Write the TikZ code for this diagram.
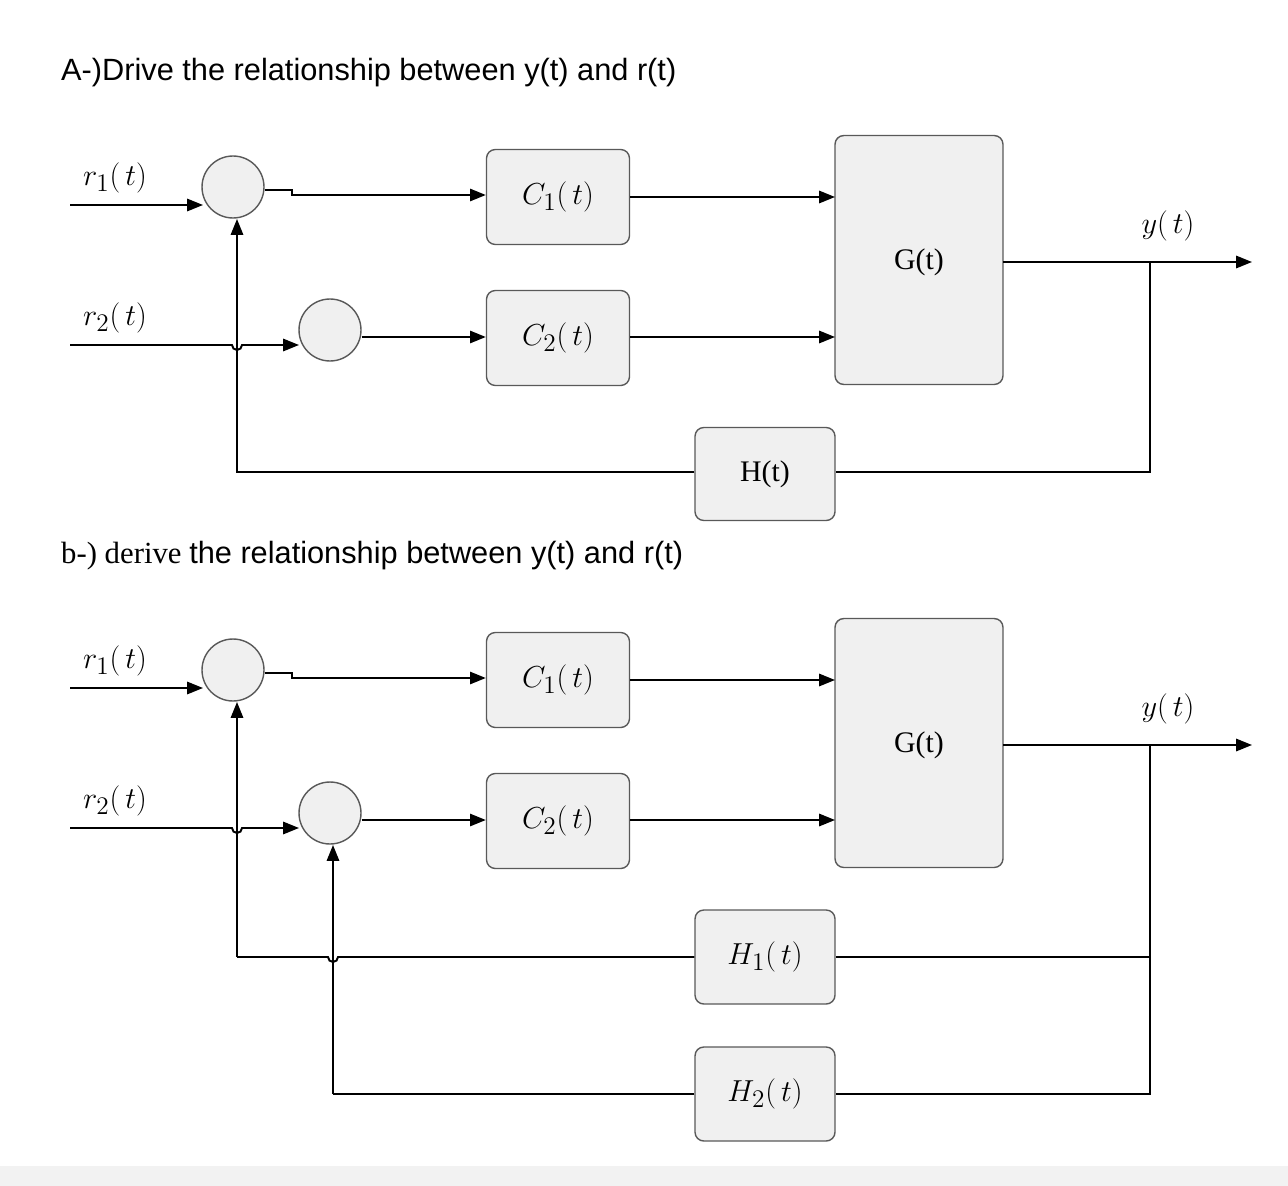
\documentclass[tikz,border=0pt]{standalone}
\usepackage{fontspec}
\setmainfont{Liberation Serif}
\newfontfamily\sans{Liberation Sans}
\usetikzlibrary{arrows.meta}
\begin{document}
\begin{tikzpicture}[x=0.02cm,y=-0.02cm,
  ln/.style={line width=1.1pt},
  ar/.style={ln,-{Triangle[length=9pt,width=7pt]}},
  blk/.style={draw=black!65,fill=black!6,rounded corners=5pt,line width=0.8pt,inner sep=0pt},
  sj/.style={circle,draw=black!65,fill=black!6,line width=0.8pt,minimum size=1.24cm,inner sep=0pt},
  lab/.style={font=\fontsize{19}{22}\selectfont},
  ttl/.style={anchor=west,font=\fontsize{17.5}{20}\selectfont}]
\useasboundingbox (0,0) rectangle (1288,1186);
\fill[black!5] (0,1166) rectangle (1288,1186);
\foreach \o/\p in {0/a,483/b}{
  \node[sj] (\p s1) at (233,187+\o) {};
  \node[blk,minimum width=2.86cm,minimum height=1.9cm] (\p c1) at (558,197+\o) {};
  \node[lab] at (558,197+\o) {$C_1(\,t)$};
  \node[blk,minimum width=2.86cm,minimum height=1.9cm] (\p c2) at (558,338+\o) {};
  \node[lab] at (558,338+\o) {$C_2(\,t)$};
  \node[blk,minimum width=3.36cm,minimum height=4.98cm] (\p g) at (919,260+\o) {};
  \node[lab,font=\fontsize{17}{20}\selectfont] at (919,262+\o) {G(t)};
  \node[sj] (\p s2) at (330,330+\o) {};
  \node[lab] at (115,178+\o) {$r_1(\,t)$};
  \node[lab] at (115,318+\o) {$r_2(\,t)$};
  \node[lab] at (1168,226+\o) {$y(\,t)$};
  \coordinate (\p yo) at (1252,262+\o);
  \draw[ar] (70,205+\o) -- (203,205+\o);
  \draw[ln] (265,190+\o) -- (292,190+\o) -- (292,195+\o) -- (380,195+\o);
  \draw[ar] (380,195+\o) -- (\p c1.west|-0,195+\o);
  \draw[ar] (630,197+\o) -- (835,197+\o);
  \draw[ar] (630,337+\o) -- (835,337+\o);
  \draw[ar] (1003,262+\o) -- (\p yo);
  \draw[ar] (\p s2.east|-0,337+\o) -- (\p c2.west|-0,337+\o);
  \draw[ln] (70,345+\o) -- (232,345+\o) arc (180:0:5) -- (250,345+\o);
  \draw[ar] (250,345+\o) -- (299,345+\o);
}
% part A
\node[ttl,font=\sans\fontsize{17.5}{20}\selectfont] at (55,73) {A-)Drive the relationship between y(t) and r(t)};
\node[blk,minimum width=2.8cm,minimum height=1.86cm] (ah) at (765,474) {};
\node[font=\fontsize{17}{20}\selectfont] at (765,474) {H(t)};
\draw[ln] (1150,262) -- (1150,472) -- (ah.east|-0,472);
\draw[ar] (ah.west|-0,472) -- (237,472) -- (237,219);
% part B
\node[ttl] at (55,556) {\fontsize{17.5}{20}\selectfont b-) derive {\sans the relationship between y(t) and r(t)}};
\node[blk,minimum width=2.8cm,minimum height=1.88cm] (bh1) at (765,957) {};
\node[lab] at (765,957) {$H_1(\,t)$};
\node[blk,minimum width=2.8cm,minimum height=1.88cm] (bh2) at (765,1094) {};
\node[lab] at (765,1094) {$H_2(\,t)$};
\draw[ln] (1150,745) -- (1150,1094) -- (bh2.east|-0,1094);
\draw[ln] (1150,957) -- (bh1.east|-0,957);
\draw[ln] (bh1.west|-0,957) -- (338,957) arc (0:180:5) -- (237,957);
\draw[ar] (237,957) -- (237,702);
\draw[ln] (bh2.west|-0,1094) -- (333,1094);
\draw[ar] (333,1094) -- (333,845);
\end{tikzpicture}
\end{document}
